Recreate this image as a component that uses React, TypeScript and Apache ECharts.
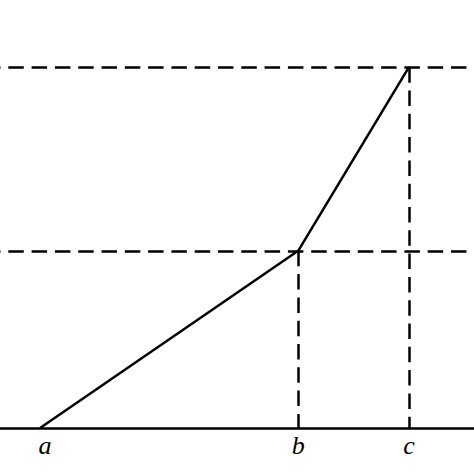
import React, { useEffect, useRef } from "react";
import * as echarts from "echarts";

// x positions of the three marked points and the axis span
const pointNames = ["a", "b", "c"];
const pointX = [0.93, 6.92, 9.49];
// heights reached by the line at each point
const pointY = [0, 4.14, 8.43];
const xMax = 11;
const yMax = 10;

export default function App() {
    const chartRef = useRef<HTMLDivElement>(null);

    useEffect(() => {
        if (chartRef.current === null) return;
        const chart = echarts.init(chartRef.current, undefined, { renderer: "svg" });

        const dashed = {
            color: "#000",
            width: 2.5,
            type: [15.5, 7.8] as number[],
        };
        const dashedH = { ...dashed, dashOffset: 14.5 };
        const labelFont = {
            color: "#000",
            fontSize: 26,
            fontStyle: "italic" as const,
            fontFamily: "'Liberation Serif', 'Times New Roman', serif",
        };

        const option: echarts.EChartsOption = {
            animation: false,
            grid: { left: 0, right: 0, top: 0, bottom: 46 },
            xAxis: {
                type: "value",
                min: 0,
                max: xMax,
                axisLine: { show: true, onZero: false, lineStyle: { color: "#000", width: 2.5 } },
                axisTick: { show: false },
                splitLine: { show: false },
                axisLabel: {
                    customValues: pointX,
                    margin: 4,
                    ...labelFont,
                    // the italic "a" sits a little right of its point
                    rich: { shift: { ...labelFont, padding: [0, 0, 0, 10] } },
                    formatter: (value: number) => {
                        const i = pointX.indexOf(value);
                        if (i < 0) return "";
                        return i === 0 ? `{shift|${pointNames[i]}}` : pointNames[i];
                    },
                },
            } as any,
            yAxis: {
                type: "value",
                min: 0,
                max: yMax,
                show: false,
                splitLine: { show: false },
            },
            series: [
                {
                    type: "line",
                    data: pointX.map((x, i) => [x, pointY[i]]),
                    showSymbol: false,
                    symbol: "none",
                    clip: false,
                    lineStyle: { color: "#000", width: 2.5 },
                    markLine: {
                        silent: true,
                        symbol: "none",
                        label: { show: false },
                        lineStyle: dashed,
                        data: [
                            { yAxis: pointY[1], lineStyle: dashedH },
                            { yAxis: pointY[2], lineStyle: dashedH },
                            [{ coord: [pointX[1], pointY[1]] }, { coord: [pointX[1], 0] }],
                            [{ coord: [pointX[2], pointY[2]] }, { coord: [pointX[2], 0] }],
                        ] as any,
                    },
                },
            ],
        };

        chart.setOption(option);
        return () => chart.dispose();
    }, []);

    return (
        <div
            ref={chartRef}
            style={{ position: "fixed", top: 0, left: 0, width: "474px", height: "474px", background: "#fff" }}
        />
    );
}
